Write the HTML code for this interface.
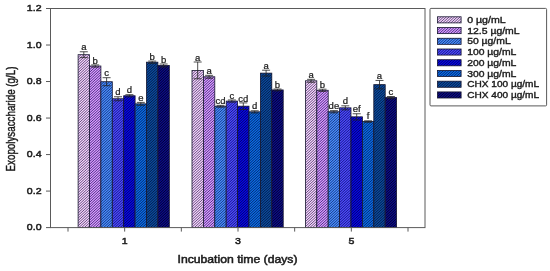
<!DOCTYPE html><html><head><meta charset="utf-8"><title>chart</title><style>html,body{margin:0;padding:0;background:#fff}svg{display:block}text{font-family:"Liberation Sans",Arial,sans-serif;fill:#1c1c1c;stroke:#1c1c1c;stroke-width:0.3px}</style></head><body>
<svg width="550" height="271" viewBox="0 0 550 271">
<defs>
<path id="hc" d="M-200.00,228.6L3.39,40M-197.25,228.6L6.14,40M-194.50,228.6L8.89,40M-191.75,228.6L11.64,40M-189.00,228.6L14.39,40M-186.25,228.6L17.14,40M-183.50,228.6L19.89,40M-180.75,228.6L22.64,40M-178.00,228.6L25.39,40M-175.25,228.6L28.14,40M-172.50,228.6L30.89,40M-169.75,228.6L33.64,40M-167.00,228.6L36.39,40M-164.25,228.6L39.14,40M-161.50,228.6L41.89,40M-158.75,228.6L44.64,40M-156.00,228.6L47.39,40M-153.25,228.6L50.14,40M-150.50,228.6L52.89,40M-147.75,228.6L55.64,40M-145.00,228.6L58.39,40M-142.25,228.6L61.14,40M-139.50,228.6L63.89,40M-136.75,228.6L66.64,40M-134.00,228.6L69.39,40M-131.25,228.6L72.14,40M-128.50,228.6L74.89,40M-125.75,228.6L77.64,40M-123.00,228.6L80.39,40M-120.25,228.6L83.14,40M-117.50,228.6L85.89,40M-114.75,228.6L88.64,40M-112.00,228.6L91.39,40M-109.25,228.6L94.14,40M-106.50,228.6L96.89,40M-103.75,228.6L99.64,40M-101.00,228.6L102.39,40M-98.25,228.6L105.14,40M-95.50,228.6L107.89,40M-92.75,228.6L110.64,40M-90.00,228.6L113.39,40M-87.25,228.6L116.14,40M-84.50,228.6L118.89,40M-81.75,228.6L121.64,40M-79.00,228.6L124.39,40M-76.25,228.6L127.14,40M-73.50,228.6L129.89,40M-70.75,228.6L132.64,40M-68.00,228.6L135.39,40M-65.25,228.6L138.14,40M-62.50,228.6L140.89,40M-59.75,228.6L143.64,40M-57.00,228.6L146.39,40M-54.25,228.6L149.14,40M-51.50,228.6L151.89,40M-48.75,228.6L154.64,40M-46.00,228.6L157.39,40M-43.25,228.6L160.14,40M-40.50,228.6L162.89,40M-37.75,228.6L165.64,40M-35.00,228.6L168.39,40M-32.25,228.6L171.14,40M-29.50,228.6L173.89,40M-26.75,228.6L176.64,40M-24.00,228.6L179.39,40M-21.25,228.6L182.14,40M-18.50,228.6L184.89,40M-15.75,228.6L187.64,40M-13.00,228.6L190.39,40M-10.25,228.6L193.14,40M-7.50,228.6L195.89,40M-4.75,228.6L198.64,40M-2.00,228.6L201.39,40M0.75,228.6L204.14,40M3.50,228.6L206.89,40M6.25,228.6L209.64,40M9.00,228.6L212.39,40M11.75,228.6L215.14,40M14.50,228.6L217.89,40M17.25,228.6L220.64,40M20.00,228.6L223.39,40M22.75,228.6L226.14,40M25.50,228.6L228.89,40M28.25,228.6L231.64,40M31.00,228.6L234.39,40M33.75,228.6L237.14,40M36.50,228.6L239.89,40M39.25,228.6L242.64,40M42.00,228.6L245.39,40M44.75,228.6L248.14,40M47.50,228.6L250.89,40M50.25,228.6L253.64,40M53.00,228.6L256.39,40M55.75,228.6L259.14,40M58.50,228.6L261.89,40M61.25,228.6L264.64,40M64.00,228.6L267.39,40M66.75,228.6L270.14,40M69.50,228.6L272.89,40M72.25,228.6L275.64,40M75.00,228.6L278.39,40M77.75,228.6L281.14,40M80.50,228.6L283.89,40M83.25,228.6L286.64,40M86.00,228.6L289.39,40M88.75,228.6L292.14,40M91.50,228.6L294.89,40M94.25,228.6L297.64,40M97.00,228.6L300.39,40M99.75,228.6L303.14,40M102.50,228.6L305.89,40M105.25,228.6L308.64,40M108.00,228.6L311.39,40M110.75,228.6L314.14,40M113.50,228.6L316.89,40M116.25,228.6L319.64,40M119.00,228.6L322.39,40M121.75,228.6L325.14,40M124.50,228.6L327.89,40M127.25,228.6L330.64,40M130.00,228.6L333.39,40M132.75,228.6L336.14,40M135.50,228.6L338.89,40M138.25,228.6L341.64,40M141.00,228.6L344.39,40M143.75,228.6L347.14,40M146.50,228.6L349.89,40M149.25,228.6L352.64,40M152.00,228.6L355.39,40M154.75,228.6L358.14,40M157.50,228.6L360.89,40M160.25,228.6L363.64,40M163.00,228.6L366.39,40M165.75,228.6L369.14,40M168.50,228.6L371.89,40M171.25,228.6L374.64,40M174.00,228.6L377.39,40M176.75,228.6L380.14,40M179.50,228.6L382.89,40M182.25,228.6L385.64,40M185.00,228.6L388.39,40M187.75,228.6L391.14,40M190.50,228.6L393.89,40M193.25,228.6L396.64,40M196.00,228.6L399.39,40M198.75,228.6L402.14,40M201.50,228.6L404.89,40M204.25,228.6L407.64,40M207.00,228.6L410.39,40M209.75,228.6L413.14,40M212.50,228.6L415.89,40M215.25,228.6L418.64,40M218.00,228.6L421.39,40M220.75,228.6L424.14,40M223.50,228.6L426.89,40M226.25,228.6L429.64,40M229.00,228.6L432.39,40M231.75,228.6L435.14,40M234.50,228.6L437.89,40M237.25,228.6L440.64,40M240.00,228.6L443.39,40M242.75,228.6L446.14,40M245.50,228.6L448.89,40M248.25,228.6L451.64,40M251.00,228.6L454.39,40M253.75,228.6L457.14,40M256.50,228.6L459.89,40M259.25,228.6L462.64,40M262.00,228.6L465.39,40M264.75,228.6L468.14,40M267.50,228.6L470.89,40M270.25,228.6L473.64,40M273.00,228.6L476.39,40M275.75,228.6L479.14,40M278.50,228.6L481.89,40M281.25,228.6L484.64,40M284.00,228.6L487.39,40M286.75,228.6L490.14,40M289.50,228.6L492.89,40M292.25,228.6L495.64,40M295.00,228.6L498.39,40M297.75,228.6L501.14,40M300.50,228.6L503.89,40M303.25,228.6L506.64,40M306.00,228.6L509.39,40M308.75,228.6L512.14,40M311.50,228.6L514.89,40M314.25,228.6L517.64,40M317.00,228.6L520.39,40M319.75,228.6L523.14,40M322.50,228.6L525.89,40M325.25,228.6L528.64,40M328.00,228.6L531.39,40M330.75,228.6L534.14,40M333.50,228.6L536.89,40M336.25,228.6L539.64,40M339.00,228.6L542.39,40M341.75,228.6L545.14,40M344.50,228.6L547.89,40M347.25,228.6L550.64,40M350.00,228.6L553.39,40M352.75,228.6L556.14,40M355.50,228.6L558.89,40M358.25,228.6L561.64,40M361.00,228.6L564.39,40M363.75,228.6L567.14,40M366.50,228.6L569.89,40M369.25,228.6L572.64,40M372.00,228.6L575.39,40M374.75,228.6L578.14,40M377.50,228.6L580.89,40M380.25,228.6L583.64,40M383.00,228.6L586.39,40M385.75,228.6L589.14,40M388.50,228.6L591.89,40M391.25,228.6L594.64,40M394.00,228.6L597.39,40M396.75,228.6L600.14,40M399.50,228.6L602.89,40M402.25,228.6L605.64,40M405.00,228.6L608.39,40M407.75,228.6L611.14,40M410.50,228.6L613.89,40M413.25,228.6L616.64,40M416.00,228.6L619.39,40M418.75,228.6L622.14,40M421.50,228.6L624.89,40M424.25,228.6L627.64,40M427.00,228.6L630.39,40M429.75,228.6L633.14,40M432.50,228.6L635.89,40M435.25,228.6L638.64,40M438.00,228.6L641.39,40M440.75,228.6L644.14,40M443.50,228.6L646.89,40M446.25,228.6L649.64,40M449.00,228.6L652.39,40M451.75,228.6L655.14,40M454.50,228.6L657.89,40M457.25,228.6L660.64,40M460.00,228.6L663.39,40M462.75,228.6L666.14,40M465.50,228.6L668.89,40M468.25,228.6L671.64,40" fill="none" stroke-width="0.92"/>
<path id="hl" d="M310.00,100L402.75,14M312.75,100L405.50,14M315.50,100L408.25,14M318.25,100L411.00,14M321.00,100L413.75,14M323.75,100L416.50,14M326.50,100L419.25,14M329.25,100L422.00,14M332.00,100L424.75,14M334.75,100L427.50,14M337.50,100L430.25,14M340.25,100L433.00,14M343.00,100L435.75,14M345.75,100L438.50,14M348.50,100L441.25,14M351.25,100L444.00,14M354.00,100L446.75,14M356.75,100L449.50,14M359.50,100L452.25,14M362.25,100L455.00,14M365.00,100L457.75,14M367.75,100L460.50,14M370.50,100L463.25,14M373.25,100L466.00,14M376.00,100L468.75,14M378.75,100L471.50,14M381.50,100L474.25,14M384.25,100L477.00,14M387.00,100L479.75,14M389.75,100L482.50,14M392.50,100L485.25,14M395.25,100L488.00,14M398.00,100L490.75,14M400.75,100L493.50,14M403.50,100L496.25,14M406.25,100L499.00,14M409.00,100L501.75,14M411.75,100L504.50,14M414.50,100L507.25,14M417.25,100L510.00,14M420.00,100L512.75,14M422.75,100L515.50,14M425.50,100L518.25,14M428.25,100L521.00,14M431.00,100L523.75,14M433.75,100L526.50,14M436.50,100L529.25,14M439.25,100L532.00,14M442.00,100L534.75,14M444.75,100L537.50,14M447.50,100L540.25,14M450.25,100L543.00,14M453.00,100L545.75,14M455.75,100L548.50,14M458.50,100L551.25,14M461.25,100L554.00,14M464.00,100L556.75,14M466.75,100L559.50,14M469.50,100L562.25,14" fill="none" stroke-width="0.92"/>
<clipPath id="c0"><rect x="78.10" y="54.69" width="11.40" height="172.91"/><rect x="192.00" y="70.40" width="11.40" height="157.20"/><rect x="305.40" y="80.80" width="11.40" height="146.80"/></clipPath>
<clipPath id="k0"><rect x="437.5" y="16.80" width="23.6" height="6.1"/></clipPath>
<clipPath id="c1"><rect x="89.50" y="66.01" width="11.40" height="161.59"/><rect x="203.40" y="76.79" width="11.40" height="150.81"/><rect x="316.80" y="90.30" width="11.40" height="137.30"/></clipPath>
<clipPath id="k1"><rect x="437.5" y="27.53" width="23.6" height="6.1"/></clipPath>
<clipPath id="c2"><rect x="100.90" y="81.72" width="11.40" height="145.88"/><rect x="214.80" y="106.27" width="11.40" height="121.33"/><rect x="328.20" y="111.73" width="11.40" height="115.87"/></clipPath>
<clipPath id="k2"><rect x="437.5" y="38.26" width="23.6" height="6.1"/></clipPath>
<clipPath id="c3"><rect x="112.30" y="98.77" width="11.40" height="128.83"/><rect x="226.20" y="101.07" width="11.40" height="126.53"/><rect x="339.60" y="107.83" width="11.40" height="119.77"/></clipPath>
<clipPath id="k3"><rect x="437.5" y="48.99" width="23.6" height="6.1"/></clipPath>
<clipPath id="c4"><rect x="123.70" y="95.77" width="11.40" height="131.83"/><rect x="237.60" y="106.18" width="11.40" height="121.42"/><rect x="351.00" y="116.86" width="11.40" height="110.74"/></clipPath>
<clipPath id="k4"><rect x="437.5" y="59.72" width="23.6" height="6.1"/></clipPath>
<clipPath id="c5"><rect x="135.10" y="103.86" width="11.40" height="123.74"/><rect x="249.00" y="111.84" width="11.40" height="115.76"/><rect x="362.40" y="121.52" width="11.40" height="106.08"/></clipPath>
<clipPath id="k5"><rect x="437.5" y="70.45" width="23.6" height="6.1"/></clipPath>
<clipPath id="c6"><rect x="146.50" y="62.18" width="11.40" height="165.42"/><rect x="260.40" y="73.13" width="11.40" height="154.47"/><rect x="373.80" y="84.64" width="11.40" height="142.96"/></clipPath>
<clipPath id="k6"><rect x="437.5" y="81.18" width="23.6" height="6.1"/></clipPath>
<clipPath id="c7"><rect x="157.90" y="65.47" width="11.40" height="162.13"/><rect x="271.80" y="89.93" width="11.40" height="137.67"/><rect x="385.20" y="97.60" width="11.40" height="130.00"/></clipPath>
<clipPath id="k7"><rect x="437.5" y="91.91" width="23.6" height="6.1"/></clipPath>
</defs>
<rect x="0" y="0" width="550" height="271" fill="#fff"/>
<rect x="78.10" y="54.69" width="11.40" height="172.91" fill="#f4d4fc"/>
<rect x="192.00" y="70.40" width="11.40" height="157.20" fill="#f4d4fc"/>
<rect x="305.40" y="80.80" width="11.40" height="146.80" fill="#f4d4fc"/>
<g clip-path="url(#c0)"><use href="#hc" stroke="#5a4474"/></g>
<rect x="78.10" y="54.69" width="11.40" height="172.91" fill="none" stroke="#181830" stroke-width="0.8"/>
<rect x="192.00" y="70.40" width="11.40" height="157.20" fill="none" stroke="#181830" stroke-width="0.8"/>
<rect x="305.40" y="80.80" width="11.40" height="146.80" fill="none" stroke="#181830" stroke-width="0.8"/>
<rect x="89.50" y="66.01" width="11.40" height="161.59" fill="#da9afe"/>
<rect x="203.40" y="76.79" width="11.40" height="150.81" fill="#da9afe"/>
<rect x="316.80" y="90.30" width="11.40" height="137.30" fill="#da9afe"/>
<g clip-path="url(#c1)"><use href="#hc" stroke="#432c7c"/></g>
<rect x="89.50" y="66.01" width="11.40" height="161.59" fill="none" stroke="#181830" stroke-width="0.8"/>
<rect x="203.40" y="76.79" width="11.40" height="150.81" fill="none" stroke="#181830" stroke-width="0.8"/>
<rect x="316.80" y="90.30" width="11.40" height="137.30" fill="none" stroke="#181830" stroke-width="0.8"/>
<rect x="100.90" y="81.72" width="11.40" height="145.88" fill="#4a8cfc"/>
<rect x="214.80" y="106.27" width="11.40" height="121.33" fill="#4a8cfc"/>
<rect x="328.20" y="111.73" width="11.40" height="115.87" fill="#4a8cfc"/>
<g clip-path="url(#c2)"><use href="#hc" stroke="#14357c"/></g>
<rect x="100.90" y="81.72" width="11.40" height="145.88" fill="none" stroke="#181830" stroke-width="0.8"/>
<rect x="214.80" y="106.27" width="11.40" height="121.33" fill="none" stroke="#181830" stroke-width="0.8"/>
<rect x="328.20" y="111.73" width="11.40" height="115.87" fill="none" stroke="#181830" stroke-width="0.8"/>
<rect x="112.30" y="98.77" width="11.40" height="128.83" fill="#4c4afa"/>
<rect x="226.20" y="101.07" width="11.40" height="126.53" fill="#4c4afa"/>
<rect x="339.60" y="107.83" width="11.40" height="119.77" fill="#4c4afa"/>
<g clip-path="url(#c3)"><use href="#hc" stroke="#161682"/></g>
<rect x="112.30" y="98.77" width="11.40" height="128.83" fill="none" stroke="#181830" stroke-width="0.8"/>
<rect x="226.20" y="101.07" width="11.40" height="126.53" fill="none" stroke="#181830" stroke-width="0.8"/>
<rect x="339.60" y="107.83" width="11.40" height="119.77" fill="none" stroke="#181830" stroke-width="0.8"/>
<rect x="123.70" y="95.77" width="11.40" height="131.83" fill="#0808e4"/>
<rect x="237.60" y="106.18" width="11.40" height="121.42" fill="#0808e4"/>
<rect x="351.00" y="116.86" width="11.40" height="110.74" fill="#0808e4"/>
<g clip-path="url(#c4)"><use href="#hc" stroke="#020263"/></g>
<rect x="123.70" y="95.77" width="11.40" height="131.83" fill="none" stroke="#181830" stroke-width="0.8"/>
<rect x="237.60" y="106.18" width="11.40" height="121.42" fill="none" stroke="#181830" stroke-width="0.8"/>
<rect x="351.00" y="116.86" width="11.40" height="110.74" fill="none" stroke="#181830" stroke-width="0.8"/>
<rect x="135.10" y="103.86" width="11.40" height="123.74" fill="#0c6ae4"/>
<rect x="249.00" y="111.84" width="11.40" height="115.76" fill="#0c6ae4"/>
<rect x="362.40" y="121.52" width="11.40" height="106.08" fill="#0c6ae4"/>
<g clip-path="url(#c5)"><use href="#hc" stroke="#022868"/></g>
<rect x="135.10" y="103.86" width="11.40" height="123.74" fill="none" stroke="#181830" stroke-width="0.8"/>
<rect x="249.00" y="111.84" width="11.40" height="115.76" fill="none" stroke="#181830" stroke-width="0.8"/>
<rect x="362.40" y="121.52" width="11.40" height="106.08" fill="none" stroke="#181830" stroke-width="0.8"/>
<rect x="146.50" y="62.18" width="11.40" height="165.42" fill="#0c4a9c"/>
<rect x="260.40" y="73.13" width="11.40" height="154.47" fill="#0c4a9c"/>
<rect x="373.80" y="84.64" width="11.40" height="142.96" fill="#0c4a9c"/>
<g clip-path="url(#c6)"><use href="#hc" stroke="#021b46"/></g>
<rect x="146.50" y="62.18" width="11.40" height="165.42" fill="none" stroke="#181830" stroke-width="0.8"/>
<rect x="260.40" y="73.13" width="11.40" height="154.47" fill="none" stroke="#181830" stroke-width="0.8"/>
<rect x="373.80" y="84.64" width="11.40" height="142.96" fill="none" stroke="#181830" stroke-width="0.8"/>
<rect x="157.90" y="65.47" width="11.40" height="162.13" fill="#0c0c8a"/>
<rect x="271.80" y="89.93" width="11.40" height="137.67" fill="#0c0c8a"/>
<rect x="385.20" y="97.60" width="11.40" height="130.00" fill="#0c0c8a"/>
<g clip-path="url(#c7)"><use href="#hc" stroke="#020227"/></g>
<rect x="157.90" y="65.47" width="11.40" height="162.13" fill="none" stroke="#181830" stroke-width="0.8"/>
<rect x="271.80" y="89.93" width="11.40" height="137.67" fill="none" stroke="#181830" stroke-width="0.8"/>
<rect x="385.20" y="97.60" width="11.40" height="130.00" fill="none" stroke="#181830" stroke-width="0.8"/>
<path d="M83.80,51.77 V57.61 M79.80,51.77 H87.80 M79.80,57.61 H87.80" stroke="#222" stroke-width="0.8" fill="none"/>
<text transform="translate(83.80,50.37) scale(1.12,1)" font-size="8.5" text-anchor="middle" style="stroke-width:0.22px">a</text>
<path d="M95.20,64.92 V67.11 M91.20,64.92 H99.20 M91.20,67.11 H99.20" stroke="#222" stroke-width="0.8" fill="none"/>
<text transform="translate(95.20,63.52) scale(1.12,1)" font-size="8.5" text-anchor="middle" style="stroke-width:0.22px">b</text>
<path d="M106.60,77.70 V85.73 M102.60,77.70 H110.60 M102.60,85.73 H110.60" stroke="#222" stroke-width="0.8" fill="none"/>
<text transform="translate(106.60,76.30) scale(1.12,1)" font-size="8.5" text-anchor="middle" style="stroke-width:0.22px">c</text>
<path d="M118.00,96.76 V100.78 M114.00,96.76 H122.00 M114.00,100.78 H122.00" stroke="#222" stroke-width="0.8" fill="none"/>
<text transform="translate(118.00,95.36) scale(1.12,1)" font-size="8.5" text-anchor="middle" style="stroke-width:0.22px">d</text>
<path d="M129.40,94.68 V96.87 M125.40,94.68 H133.40 M125.40,96.87 H133.40" stroke="#222" stroke-width="0.8" fill="none"/>
<text transform="translate(129.40,93.28) scale(1.12,1)" font-size="8.5" text-anchor="middle" style="stroke-width:0.22px">d</text>
<path d="M140.80,102.40 V105.32 M136.80,102.40 H144.80 M136.80,105.32 H144.80" stroke="#222" stroke-width="0.8" fill="none"/>
<text transform="translate(140.80,101.00) scale(1.12,1)" font-size="8.5" text-anchor="middle" style="stroke-width:0.22px">e</text>
<path d="M152.20,61.08 V63.27 M148.20,61.08 H156.20 M148.20,63.27 H156.20" stroke="#222" stroke-width="0.8" fill="none"/>
<text transform="translate(152.20,59.68) scale(1.12,1)" font-size="8.5" text-anchor="middle" style="stroke-width:0.22px">b</text>
<path d="M163.60,64.01 V66.93 M159.60,64.01 H167.60 M159.60,66.93 H167.60" stroke="#222" stroke-width="0.8" fill="none"/>
<text transform="translate(163.60,62.61) scale(1.12,1)" font-size="8.5" text-anchor="middle" style="stroke-width:0.22px">b</text>
<path d="M197.70,62.00 V78.79 M193.70,62.00 H201.70 M193.70,78.79 H201.70" stroke="#222" stroke-width="0.8" fill="none"/>
<text transform="translate(197.70,60.60) scale(1.12,1)" font-size="8.5" text-anchor="middle" style="stroke-width:0.22px">a</text>
<path d="M209.10,75.33 V78.25 M205.10,75.33 H213.10 M205.10,78.25 H213.10" stroke="#222" stroke-width="0.8" fill="none"/>
<text transform="translate(209.10,73.93) scale(1.12,1)" font-size="8.5" text-anchor="middle" style="stroke-width:0.22px">a</text>
<path d="M220.50,105.36 V107.19 M216.50,105.36 H224.50 M216.50,107.19 H224.50" stroke="#222" stroke-width="0.8" fill="none"/>
<text transform="translate(220.50,103.96) scale(1.12,1)" font-size="8.5" text-anchor="middle" style="stroke-width:0.22px">cd</text>
<path d="M231.90,99.97 V102.17 M227.90,99.97 H235.90 M227.90,102.17 H235.90" stroke="#222" stroke-width="0.8" fill="none"/>
<text transform="translate(231.90,98.57) scale(1.12,1)" font-size="8.5" text-anchor="middle" style="stroke-width:0.22px">c</text>
<path d="M243.30,102.90 V109.47 M239.30,102.90 H247.30 M239.30,109.47 H247.30" stroke="#222" stroke-width="0.8" fill="none"/>
<text transform="translate(243.30,101.50) scale(1.12,1)" font-size="8.5" text-anchor="middle" style="stroke-width:0.22px">cd</text>
<path d="M254.70,110.75 V112.94 M250.70,110.75 H258.70 M250.70,112.94 H258.70" stroke="#222" stroke-width="0.8" fill="none"/>
<text transform="translate(254.70,109.35) scale(1.12,1)" font-size="8.5" text-anchor="middle" style="stroke-width:0.22px">d</text>
<path d="M266.10,70.21 V76.06 M262.10,70.21 H270.10 M262.10,76.06 H270.10" stroke="#222" stroke-width="0.8" fill="none"/>
<text transform="translate(266.10,68.81) scale(1.12,1)" font-size="8.5" text-anchor="middle" style="stroke-width:0.22px">a</text>
<path d="M277.50,89.02 V90.85 M273.50,89.02 H281.50 M273.50,90.85 H281.50" stroke="#222" stroke-width="0.8" fill="none"/>
<text transform="translate(277.50,87.62) scale(1.12,1)" font-size="8.5" text-anchor="middle" style="stroke-width:0.22px">b</text>
<path d="M311.10,79.34 V82.26 M307.10,79.34 H315.10 M307.10,82.26 H315.10" stroke="#222" stroke-width="0.8" fill="none"/>
<text transform="translate(311.10,77.94) scale(1.12,1)" font-size="8.5" text-anchor="middle" style="stroke-width:0.22px">a</text>
<path d="M322.50,89.20 V91.39 M318.50,89.20 H326.50 M318.50,91.39 H326.50" stroke="#222" stroke-width="0.8" fill="none"/>
<text transform="translate(322.50,87.80) scale(1.12,1)" font-size="8.5" text-anchor="middle" style="stroke-width:0.22px">b</text>
<path d="M333.90,110.64 V112.83 M329.90,110.64 H337.90 M329.90,112.83 H337.90" stroke="#222" stroke-width="0.8" fill="none"/>
<text transform="translate(333.90,109.24) scale(1.12,1)" font-size="8.5" text-anchor="middle" style="stroke-width:0.22px">de</text>
<path d="M345.30,105.82 V109.83 M341.30,105.82 H349.30 M341.30,109.83 H349.30" stroke="#222" stroke-width="0.8" fill="none"/>
<text transform="translate(345.30,104.42) scale(1.12,1)" font-size="8.5" text-anchor="middle" style="stroke-width:0.22px">d</text>
<path d="M356.70,113.76 V119.97 M352.70,113.76 H360.70 M352.70,119.97 H360.70" stroke="#222" stroke-width="0.8" fill="none"/>
<text transform="translate(356.70,112.36) scale(1.12,1)" font-size="8.5" text-anchor="middle" style="stroke-width:0.22px">ef</text>
<path d="M368.10,120.79 V122.25 M364.10,120.79 H372.10 M364.10,122.25 H372.10" stroke="#222" stroke-width="0.8" fill="none"/>
<text transform="translate(368.10,119.39) scale(1.12,1)" font-size="8.5" text-anchor="middle" style="stroke-width:0.22px">f</text>
<path d="M379.50,80.44 V88.84 M375.50,80.44 H383.50 M375.50,88.84 H383.50" stroke="#222" stroke-width="0.8" fill="none"/>
<text transform="translate(379.50,79.04) scale(1.12,1)" font-size="8.5" text-anchor="middle" style="stroke-width:0.22px">a</text>
<path d="M390.90,96.51 V98.70 M386.90,96.51 H394.90 M386.90,98.70 H394.90" stroke="#222" stroke-width="0.8" fill="none"/>
<text transform="translate(390.90,95.11) scale(1.12,1)" font-size="8.5" text-anchor="middle" style="stroke-width:0.22px">c</text>
<rect x="50.5" y="8.5" width="374.5" height="219.1" fill="none" stroke="#5a5a5a" stroke-width="1"/>
<line x1="46.0" x2="50.5" y1="227.60" y2="227.60" stroke="#5a5a5a" stroke-width="1"/>
<text transform="translate(41.50,230.20) scale(1.09,1)" font-size="9.7" text-anchor="end" style="stroke-width:0.5px">0.0</text>
<line x1="46.0" x2="50.5" y1="191.08" y2="191.08" stroke="#5a5a5a" stroke-width="1"/>
<text transform="translate(41.50,193.68) scale(1.09,1)" font-size="9.7" text-anchor="end" style="stroke-width:0.5px">0.2</text>
<line x1="46.0" x2="50.5" y1="154.57" y2="154.57" stroke="#5a5a5a" stroke-width="1"/>
<text transform="translate(41.50,157.17) scale(1.09,1)" font-size="9.7" text-anchor="end" style="stroke-width:0.5px">0.4</text>
<line x1="46.0" x2="50.5" y1="118.05" y2="118.05" stroke="#5a5a5a" stroke-width="1"/>
<text transform="translate(41.50,120.65) scale(1.09,1)" font-size="9.7" text-anchor="end" style="stroke-width:0.5px">0.6</text>
<line x1="46.0" x2="50.5" y1="81.53" y2="81.53" stroke="#5a5a5a" stroke-width="1"/>
<text transform="translate(41.50,84.13) scale(1.09,1)" font-size="9.7" text-anchor="end" style="stroke-width:0.5px">0.8</text>
<line x1="46.0" x2="50.5" y1="45.02" y2="45.02" stroke="#5a5a5a" stroke-width="1"/>
<text transform="translate(41.50,47.62) scale(1.09,1)" font-size="9.7" text-anchor="end" style="stroke-width:0.5px">1.0</text>
<line x1="46.0" x2="50.5" y1="8.50" y2="8.50" stroke="#5a5a5a" stroke-width="1"/>
<text transform="translate(41.50,11.10) scale(1.09,1)" font-size="9.7" text-anchor="end" style="stroke-width:0.5px">1.2</text>
<line x1="68.00" x2="68.00" y1="227.6" y2="231.6" stroke="#5a5a5a" stroke-width="1"/>
<line x1="124.67" x2="124.67" y1="227.6" y2="231.6" stroke="#5a5a5a" stroke-width="1"/>
<line x1="181.33" x2="181.33" y1="227.6" y2="231.6" stroke="#5a5a5a" stroke-width="1"/>
<line x1="238.00" x2="238.00" y1="227.6" y2="231.6" stroke="#5a5a5a" stroke-width="1"/>
<line x1="294.67" x2="294.67" y1="227.6" y2="231.6" stroke="#5a5a5a" stroke-width="1"/>
<line x1="351.34" x2="351.34" y1="227.6" y2="231.6" stroke="#5a5a5a" stroke-width="1"/>
<line x1="408.00" x2="408.00" y1="227.6" y2="231.6" stroke="#5a5a5a" stroke-width="1"/>
<text transform="translate(124.67,243.80) scale(1.1,1)" font-size="9.6" text-anchor="middle" style="stroke-width:0.5px">1</text>
<text transform="translate(238.00,243.80) scale(1.1,1)" font-size="9.6" text-anchor="middle" style="stroke-width:0.5px">3</text>
<text transform="translate(351.34,243.80) scale(1.1,1)" font-size="9.6" text-anchor="middle" style="stroke-width:0.5px">5</text>
<text transform="translate(237.50,263.00) scale(1.163,1)" font-size="10.5" text-anchor="middle" style="stroke-width:0.5px">Incubation time (days)</text>
<text transform="translate(14.8,119.0) scale(1.26,1) rotate(-90)" style="stroke-width:0.35px" font-size="9.8" text-anchor="middle">Exopolysaccharide (g/L)</text>
<rect x="430" y="8.4" width="116.6" height="97.5" rx="1" fill="#fff" stroke="#5a5a5a" stroke-width="1"/>
<rect x="437.5" y="16.80" width="23.6" height="6.1" fill="#f4d4fc"/>
<g clip-path="url(#k0)"><use href="#hl" stroke="#5a4474"/></g>
<rect x="437.5" y="16.80" width="23.6" height="6.1" fill="none" stroke="#181830" stroke-width="0.8"/>
<text transform="translate(467.20,23.00) scale(1.191,1)" font-size="8.9" text-anchor="start" style="stroke-width:0.38px">0 µg/mL</text>
<rect x="437.5" y="27.53" width="23.6" height="6.1" fill="#da9afe"/>
<g clip-path="url(#k1)"><use href="#hl" stroke="#432c7c"/></g>
<rect x="437.5" y="27.53" width="23.6" height="6.1" fill="none" stroke="#181830" stroke-width="0.8"/>
<text transform="translate(467.20,33.73) scale(1.1719,1)" font-size="8.9" text-anchor="start" style="stroke-width:0.38px">12.5 µg/mL</text>
<rect x="437.5" y="38.26" width="23.6" height="6.1" fill="#4a8cfc"/>
<g clip-path="url(#k2)"><use href="#hl" stroke="#14357c"/></g>
<rect x="437.5" y="38.26" width="23.6" height="6.1" fill="none" stroke="#181830" stroke-width="0.8"/>
<text transform="translate(467.20,44.46) scale(1.1683,1)" font-size="8.9" text-anchor="start" style="stroke-width:0.38px">50 µg/mL</text>
<rect x="437.5" y="48.99" width="23.6" height="6.1" fill="#4c4afa"/>
<g clip-path="url(#k3)"><use href="#hl" stroke="#161682"/></g>
<rect x="437.5" y="48.99" width="23.6" height="6.1" fill="none" stroke="#181830" stroke-width="0.8"/>
<text transform="translate(467.20,55.19) scale(1.1648,1)" font-size="8.9" text-anchor="start" style="stroke-width:0.38px">100 µg/mL</text>
<rect x="437.5" y="59.72" width="23.6" height="6.1" fill="#0808e4"/>
<g clip-path="url(#k4)"><use href="#hl" stroke="#020263"/></g>
<rect x="437.5" y="59.72" width="23.6" height="6.1" fill="none" stroke="#181830" stroke-width="0.8"/>
<text transform="translate(467.20,65.92) scale(1.1648,1)" font-size="8.9" text-anchor="start" style="stroke-width:0.38px">200 µg/mL</text>
<rect x="437.5" y="70.45" width="23.6" height="6.1" fill="#0c6ae4"/>
<g clip-path="url(#k5)"><use href="#hl" stroke="#022868"/></g>
<rect x="437.5" y="70.45" width="23.6" height="6.1" fill="none" stroke="#181830" stroke-width="0.8"/>
<text transform="translate(467.20,76.65) scale(1.1648,1)" font-size="8.9" text-anchor="start" style="stroke-width:0.38px">300 µg/mL</text>
<rect x="437.5" y="81.18" width="23.6" height="6.1" fill="#0c4a9c"/>
<g clip-path="url(#k6)"><use href="#hl" stroke="#021b46"/></g>
<rect x="437.5" y="81.18" width="23.6" height="6.1" fill="none" stroke="#181830" stroke-width="0.8"/>
<text transform="translate(467.20,87.38) scale(1.1338,1)" font-size="8.9" text-anchor="start" style="stroke-width:0.38px">CHX 100 µg/mL</text>
<rect x="437.5" y="91.91" width="23.6" height="6.1" fill="#0c0c8a"/>
<g clip-path="url(#k7)"><use href="#hl" stroke="#020227"/></g>
<rect x="437.5" y="91.91" width="23.6" height="6.1" fill="none" stroke="#181830" stroke-width="0.8"/>
<text transform="translate(467.20,98.11) scale(1.1338,1)" font-size="8.9" text-anchor="start" style="stroke-width:0.38px">CHX 400 µg/mL</text>
</svg></body></html>
